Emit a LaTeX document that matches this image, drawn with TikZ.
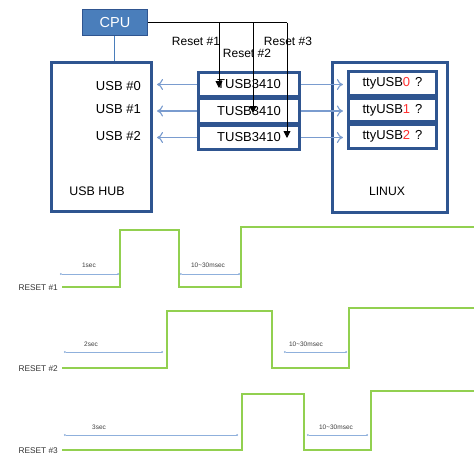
\documentclass[tikz,border=0pt]{standalone}
\usepackage{fontspec}
\setmainfont{Liberation Sans}
\usetikzlibrary{arrows.meta}
\definecolor{boxblue}{HTML}{2F5590}
\definecolor{cpufill}{HTML}{4A7EBB}
\definecolor{cpuline}{HTML}{2F5590}
\definecolor{lightarr}{HTML}{7A9CCF}
\definecolor{dimblue}{HTML}{8FB0DC}
\definecolor{wavegreen}{HTML}{92D050}
\definecolor{ttred}{HTML}{FF3030}
\tikzset{
  box/.style={draw=boxblue, line width=2.7pt, inner sep=0pt},
  cpubox/.style={fill=cpufill, draw=cpuline, line width=1.5pt, text=white, inner sep=0pt, font=\fontsize{14.5}{16}\selectfont},
  lbl/.style={font=\fontsize{13}{15}\selectfont, inner sep=0pt},
  rlbl/.style={font=\fontsize{12}{14}\selectfont, inner sep=0pt},
  usbarr/.style={draw=lightarr, line width=1.1pt, -{To[length=6pt,width=11pt]}},
  rstarr/.style={draw=black, line width=0.9pt, -{Triangle[length=7pt,width=7pt]}},
  wave/.style={draw=wavegreen, line width=1.6pt},
  dimarr/.style={draw=dimblue, line width=0.6pt, {Circle[length=1.8pt]}-{Circle[length=1.8pt]}},
  dimlbl/.style={font=\fontsize{6.5}{8}\selectfont, text=black!75, inner sep=0pt},
  siglbl/.style={font=\fontsize{8.3}{10}\selectfont, text=black!80, inner sep=0pt, anchor=east}
}
\begin{document}
\begin{tikzpicture}[x=1pt,y=-1pt]
\useasboundingbox (0,0) rectangle (474,474);
\fill[white] (0,0) rectangle (474,474);

% CPU
\node[cpubox, minimum width=65pt, minimum height=26pt] (cpu) at (115,22.5) {CPU};

% USB HUB
\node[box, minimum width=100.5pt, minimum height=149.5pt] (hub) at (101.5,137) {};
\node[lbl, anchor=east] (u0) at (141,86) {USB \#0};
\node[lbl, anchor=east] (u1) at (141,109.5) {USB \#1};
\node[lbl, anchor=east] (u2) at (141,136) {USB \#2};
\node[lbl, font=\fontsize{12.4}{14}\selectfont] (hubl) at (97,191) {USB HUB};
\draw[cpufill, line width=1pt] (cpu.south -| 114,0) -- (hub.north -| 114,0);

% LINUX
\node[box, minimum width=115.5pt, minimum height=150.5pt] (linux) at (390,137.5) {};
\node[lbl, font=\fontsize{12.2}{14}\selectfont] (linl) at (387,191) {LINUX};

% TUSB boxes
\node[box, minimum width=101.5pt, minimum height=24pt, lbl] (t1) at (249,84.5) {TUSB3410};
\node[box, minimum width=101.5pt, minimum height=24pt, lbl] (t2) at (249,111) {TUSB3410};
\node[box, minimum width=101.5pt, minimum height=24pt, lbl] (t3) at (249,137.5) {TUSB3410};

% ttyUSB boxes
\node[box, minimum width=88.5pt, minimum height=23.5pt, lbl] (y1) at (392.5,83.5) {ttyUSB{\color{ttred}0}\hspace{5pt}?};
\node[box, minimum width=88.5pt, minimum height=23.5pt, lbl] (y2) at (392.5,110) {ttyUSB{\color{ttred}1}\hspace{5pt}?};
\node[box, minimum width=88.5pt, minimum height=23.5pt, lbl] (y3) at (392.5,136.5) {ttyUSB{\color{ttred}2}\hspace{5pt}?};

% USB arrows
\coordinate (h0) at (157,84.5);
\coordinate (h1) at (157,111);
\coordinate (h2) at (157,137.5);
\draw[usbarr] (t1.west) -- (h0);
\draw[usbarr] (t2.west) -- (h1);
\draw[usbarr] (t3.west) -- (h2);
\draw[usbarr, shorten >=4pt] (t1.east) -- (t1.east -| y1.west);
\draw[usbarr, shorten >=4pt] (t2.east) -- (t2.east -| y2.west);
\draw[usbarr, shorten >=4pt] (t3.east) -- (t3.east -| y3.west);

% Reset lines
\coordinate (j1) at (219,22.5);
\coordinate (j2) at (253,22.5);
\coordinate (j3) at (287,22.5);
\coordinate (a1) at (219,88);
\coordinate (a2) at (253,113);
\coordinate (a3) at (287,138);
\draw[black, line width=0.9pt] (cpu.east) -- (j3);
\draw[rstarr] (j1) -- (a1);
\draw[rstarr] (j2) -- (a2);
\draw[rstarr] (j3) -- (a3);
\node[rlbl] (rl1) at (196,41.5) {Reset \#1};
\node[rlbl] (rl2) at (247,53) {Reset \#2};
\node[rlbl] (rl3) at (288,41) {Reset \#3};

% Timing RESET #1
\node[siglbl] (s1) at (58,287.5) {RESET \#1};
\draw[wave] (62,287) -- (120,287) -- (120,230) -- (179,230) -- (179,287) -- (241,287) -- (241,227) -- (476,227);
\draw[dimarr] (60,274) -- (119,274);
\draw[dimarr] (180,274) -- (240,274);
\node[dimlbl] (d1a) at (89,265) {1sec};
\node[dimlbl] (d1b) at (208,265) {10\textasciitilde30msec};

% Timing RESET #2
\node[siglbl] (s2) at (58,369) {RESET \#2};
\draw[wave] (62,368) -- (167,368) -- (167,311) -- (272,311) -- (272,368) -- (349,368) -- (349,308) -- (476,308);
\draw[dimarr] (64,352) -- (163,352);
\draw[dimarr] (284,352) -- (347,352);
\node[dimlbl] (d2a) at (91,344) {2sec};
\node[dimlbl] (d2b) at (306,344) {10\textasciitilde30msec};

% Timing RESET #3
\node[siglbl] (s3) at (58,451) {RESET \#3};
\draw[wave] (62,450) -- (242,450) -- (242,394) -- (304,394) -- (304,450) -- (371,450) -- (371,391) -- (476,391);
\draw[dimarr] (64,435) -- (238,435);
\draw[dimarr] (307,435) -- (368,435);
\node[dimlbl] (d3a) at (99,427) {3sec};
\node[dimlbl] (d3b) at (336,427) {10\textasciitilde30msec};
\end{tikzpicture}
\end{document}
